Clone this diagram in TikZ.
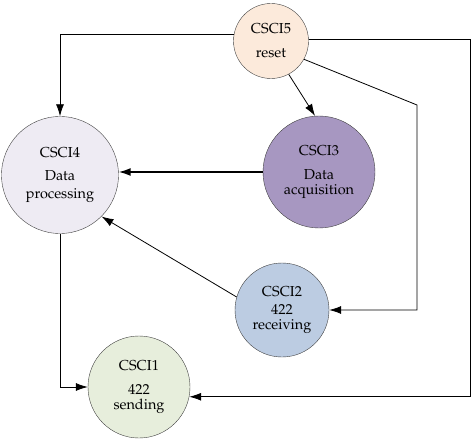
\documentclass[tikz,border=0pt]{standalone}
\usepackage[T1]{fontenc}
\usepackage{mathpazo}
\usepackage{xcolor}
\usetikzlibrary{arrows.meta}

\definecolor{resetfill}{HTML}{FCEADB}
\definecolor{procfill}{HTML}{EEEBF3}
\definecolor{acqfill}{HTML}{A797C1}
\definecolor{recvfill}{HTML}{BCCCE2}
\definecolor{sendfill}{HTML}{E7EEDC}

\tikzset{
  csci/.style={circle, draw=black!75, thin, align=center, inner sep=0pt,
               font=\fontsize{14.5}{15}\selectfont},
  flow/.style={-{Latex[length=12pt,width=8pt]}, thick, black}
}

\begin{document}
\begin{tikzpicture}[x=1bp, y=-1bp]
    \useasboundingbox (0,0) rectangle (474,443);
    \node[csci, fill=resetfill, minimum size=75bp] (csci5) at (271,41) {CSCI5\\[9pt]reset};
    \node[csci, fill=procfill, minimum size=117bp] (csci4) at (60,175) {CSCI4\\[9pt]Data\\[3pt]processing};
    \node[csci, fill=acqfill, minimum size=112bp] (csci3) at (319,172) {CSCI3\\[9pt]Data\\acquisition};
    \node[csci, fill=recvfill, minimum size=94bp] (csci2) at (282,310) {CSCI2\\[4pt]422\\receiving};
    \node[csci, fill=sendfill, minimum size=102bp] (csci1) at (139,387) {CSCI1\\[9pt]422\\sending};
    \coordinate (rside) at (470,41);
    \coordinate (bend) at (417,105);
    \draw[flow] (csci5.170) -| (csci4.north);
    \draw[flow] (csci5.3) -- (csci5.3 -| rside) |- (csci1.-11);
    \draw[flow] (csci5.-29) -- (bend) |- (csci2.east);
    \draw[flow] (csci5.-62) -- (csci3.94);
    \draw[flow, line width=1.6pt] (csci3.west) -- (csci3.west -| csci4.east);
    \draw[flow] (csci2.164) -- (csci4.-45);
    \draw[flow] (csci4.south) |- (csci1.west);
  \end{tikzpicture}
\end{document}
